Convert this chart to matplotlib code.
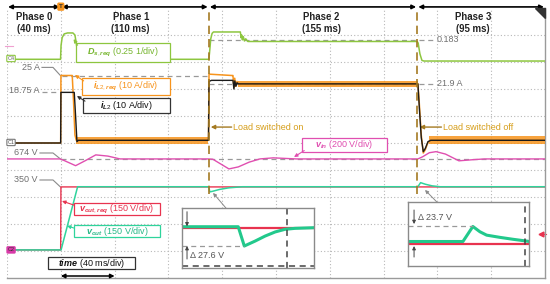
import matplotlib
matplotlib.use('Agg')
import matplotlib.pyplot as plt
from matplotlib.patches import Rectangle, Polygon
import numpy as np

FONT = 'Liberation Sans'
plt.rcParams['font.family'] = [FONT, 'DejaVu Sans']
plt.rcParams['mathtext.fontset'] = 'custom'
plt.rcParams['mathtext.rm'] = FONT
plt.rcParams['mathtext.it'] = FONT + ':italic:bold'
plt.rcParams['mathtext.bf'] = FONT + ':bold'
FS = 6.5

# ---- data, time in ms (40 ms/div) ----
phase_edges = [0, 40, 150, 305, 400]
phase_labels = ['Phase 0\n(40 ms)', 'Phase 1\n(110 ms)', 'Phase 2\n(155 ms)', 'Phase 3\n(95 ms)']
phase_label_t = [20, 92, 233.5, 346.5]

# D_s,req
t_d = [0, 39.8, 40.2, 41.0, 42.5, 45, 49, 50.5, 51.5, 52.5, 54, 56,
       150, 150.5, 151.5, 152.5, 153.5, 173.5, 174, 174.5, 175, 175.7, 176.5, 177.5, 179,
       305, 305.7, 307, 308.5, 310, 400]
d_sreq = [0, 0, 0.13, 0.2, 0.235, 0.244, 0.244, 0.225, 0.15, 0.06, 0.012, 0,
          0, 0.05, 0.19, 0.24, 0.253, 0.253, 0.2, 0.225, 0.18, 0.21, 0.17, 0.19, 0.165,
          0.165, 0.15, 0.05, -0.01, -0.016, -0.016]
d_level = 0.183

# inductor currents (A)
t_ireq = [0, 39.9, 40.1, 48.5, 49.5, 50.5, 51.5, 149.8, 150.2, 167.3, 168, 168.7, 169.3, 170, 171, 172,
          305.5, 306.5, 308, 309.5, 311, 313, 315, 400]
i_req = [0, 0, 25, 25, 15, 3, 1.0, 1.0, 25.5, 25.0, 25, 20.5, 24, 21, 22.8, 21.9,
         21.9, 15, 3, -3.7, -2.5, 0.3, 1.0, 1.0]
t_il2 = [0, 39.9, 40.1, 50, 51, 52, 53, 149.8, 150.2, 152, 168, 168.7, 169.4, 170.2, 171, 172,
         305.5, 306.7, 308, 309.5, 311, 313, 315, 400]
i_l2 = [0, 0, 18.75, 18.75, 10, 0.5, 1.0, 1.0, 22.8, 23.2, 23.2, 20, 23, 21, 22.3, 21.9,
        21.9, 12, 2, -3.2, -2, 0.5, 1.0, 1.0]
# ripple envelope of the switching current
ripple_t = [[51.5, 149.8], [171.5, 305.4], [313.5, 400]]
ripple_lo = [[-0.3, -0.3], [20.9, 20.9], [-0.4, -0.4]]
ripple_hi = [[2.2, 2.2], [23.1, 23.1], [2.5, 2.5]]
i_init = 25
i_init_l2 = 18.75
i_level = 21.9

# voltages (V)
t_vin = [0, 39.5, 43, 51, 58, 66, 75, 84, 150, 153, 160, 165, 172, 180, 188, 198, 215,
         305.5, 309, 314, 319, 326, 336, 346, 355, 400]
v_in = [674, 674, 660, 624, 660, 704, 695, 674, 674, 672, 630, 600, 615, 650, 674, 682, 674,
        674, 690, 720, 728, 710, 660, 668, 674, 674]
vin_level = 674
t_vout = [0, 40.2, 52.5, 150, 150.8, 153, 158, 165, 175, 305.5, 307.5, 311, 316, 322, 400]
v_out = [0, 0, 351, 351, 322.4, 326, 336, 345, 351, 351, 373.7, 365, 356, 351, 351]
t_vreq = [0, 39.9, 40.1, 400]
v_req = [0, 0, 350, 350]
vout_level = 350

# zoom insets (ms relative to load step, V)
ins1_t = [-21.3, 0, 2.3, 6.4, 10.2, 14, 17.7, 21.5, 28.7]
ins1_vout = [352, 352, 322.4, 330, 337.7, 344, 348, 349.5, 350.5]
ins2_t = [-22.7, 0, 4.1, 7.0, 9.8, 15.3, 20.7, 26.3, 27.3]
ins2_vout = [353.4, 353.4, 373.7, 366.6, 362, 359, 356.4, 354, 353.5]
delta_on = 27.6
delta_off = 23.7

# channel scale (per div) and ground offset (div)
D_SCALE, D_OFF = 0.25, 8.1
I_SCALE, I_OFF = 10.0, 5.0
VIN_SCALE, VOUT_SCALE, V_OFF = 200.0, 150.0, 1.04

C_D = '#8dc63f'
C_DTXT = '#76b52e'
C_IREQ = '#f7941d'
C_IL2 = '#1a1a1a'
C_VIN = '#e04fb0'
C_VREQ = '#e8334f'
C_VOUT = '#2fd49c'
C_EVT = '#a47a22'
C_EVTTXT = '#d69e1a'
C_GRAY = '#707070'
C_GRID = '#b8b8b8'

fig = plt.figure(figsize=(5.5, 2.84), dpi=100)
ax = fig.add_axes([7 / 550, 6 / 284, 538 / 550, 270 / 284])
ax.set_xlim(0, 400)
ax.set_ylim(0, 10)
ax.set_xticks([])
ax.set_yticks([])
for s in ['left', 'top']:
    ax.spines[s].set_visible(False)
for s in ['bottom', 'right']:
    ax.spines[s].set_color('#9a9a9a')
    ax.spines[s].set_linewidth(1.0)

dot = (0, (1, 2))
for k in range(1, 10):
    ax.axhline(k, color=C_GRID, lw=0.8, ls=dot, zorder=0)
for k in range(0, 10):
    ax.axvline(k * 40, color=C_GRID, lw=0.8, ls=dot, zorder=0)


def dv(v, scale, off):
    return np.asarray(v, dtype=float) / scale + off


# reference levels
dash = (0, (4, 3))
ax.hlines(dv(d_level, D_SCALE, D_OFF), 150, 318, color='#999999', lw=0.9, ls=dash, zorder=1)
ax.hlines(dv(i_init, I_SCALE, I_OFF), 41, 150, color='#999999', lw=0.9, ls=dash, zorder=1)
ax.hlines(dv(i_level, I_SCALE, I_OFF), 150, 318, color='#999999', lw=0.9, ls=dash, zorder=1)
ax.hlines(dv(i_init_l2, I_SCALE, I_OFF), 26, 40, color='#999999', lw=0.9, ls=dash, zorder=1)
ax.hlines(dv(vin_level, VIN_SCALE, V_OFF), 40, 400, color='#999999', lw=0.9, ls=dash, zorder=1)

# traces
ax.plot(t_d, dv(d_sreq, D_SCALE, D_OFF), color=C_D, lw=1.1, zorder=3)
for tt, lo, hi in zip(ripple_t, ripple_lo, ripple_hi):
    ax.fill_between(tt, dv(lo, I_SCALE, I_OFF), dv(hi, I_SCALE, I_OFF), color=C_IREQ, alpha=0.85,
                    lw=0, zorder=3)
ax.plot(t_ireq, dv(i_req, I_SCALE, I_OFF), color=C_IREQ, lw=1.1, zorder=3)
ax.plot(t_il2, dv(i_l2, I_SCALE, I_OFF), color=C_IL2, lw=1.0, zorder=4)
ax.plot(t_vin, dv(v_in, VIN_SCALE, V_OFF), color=C_VIN, lw=1.0, zorder=3)
ax.plot(t_vreq, dv(v_req, VOUT_SCALE, V_OFF), color=C_VREQ, lw=1.0, zorder=3)
ax.plot(t_vout, dv(v_out, VOUT_SCALE, V_OFF), color=C_VOUT, lw=1.1, zorder=4)

# phase boundaries
for te in phase_edges[2:4]:
    ax.vlines(te, 3.1, 10, color=C_EVT, lw=1.2, ls=(0, (5, 3)), zorder=5)

# phase arrows and labels
for i in range(4):
    ax.annotate('', xy=(phase_edges[i] + 0.8, 10.04), xytext=(phase_edges[i + 1] - 0.8, 10.04),
                arrowprops=dict(arrowstyle='<|-|>', color='black', lw=1.2, mutation_scale=6,
                                shrinkA=0, shrinkB=0), annotation_clip=False)
    ax.text(phase_label_t[i], 9.46, phase_labels[i], ha='center', va='center', fontsize=6.9,
            fontweight='bold', color='#222222', linespacing=1.25)

# trigger marker and corner marker
ax.text(40, 10.05, 'T', ha='center', va='center', fontsize=4.5, fontweight='bold', color='#333333',
        bbox=dict(boxstyle='round,pad=0.15', fc=C_IREQ, ec=C_IREQ), clip_on=False, zorder=9)
ax.add_patch(Polygon([[392.5, 10], [400, 10], [400, 9.62]], closed=True, color='#333333',
                     clip_on=False, zorder=9))

# channel tags
ax.text(3, 8.13, 'C4', ha='center', va='center', fontsize=4, color='#666666',
        bbox=dict(boxstyle='round,pad=0.12', fc='white', ec=C_D, lw=0.8), zorder=8)
ax.text(3, 5.02, 'C1', ha='center', va='center', fontsize=4, color='#555555',
        bbox=dict(boxstyle='round,pad=0.12', fc='white', ec='#777777', lw=0.8), zorder=8)
ax.text(3, 1.04, 'C2', ha='center', va='center', fontsize=4, color='#333333',
        bbox=dict(boxstyle='round,pad=0.12', fc='#d83aa8', ec='#d83aa8', lw=0.8), zorder=8)
ax.plot([-1.5, 4.5], [8.59, 8.59], color='#f0a0d0', lw=0.8, clip_on=False)
ax.plot(397, 1.63, marker='<', color=C_VREQ, ms=3.5, clip_on=False)
ax.plot([397, 400.5], [1.63, 1.63], color=C_VREQ, lw=0.8, clip_on=False)

# gray level labels with leaders
lead = dict(color='#8a8a8a', lw=0.8, zorder=2)
ax.text(24.5, 7.8, '25 A', ha='right', va='center', fontsize=FS, color=C_GRAY)
ax.plot([26, 34.2, 39.7], [7.8, 7.8, dv(i_init, I_SCALE, I_OFF)], **lead)
ax.text(24.5, 6.93, '18.75 A', ha='right', va='center', fontsize=FS, color=C_GRAY)
ax.text(23, 4.63, '674 V', ha='right', va='center', fontsize=FS, color=C_GRAY)
ax.plot([24.5, 34.2, 39.7], [4.63, 4.63, dv(vin_level, VIN_SCALE, V_OFF)], **lead)
ax.text(23, 3.63, '350 V', ha='right', va='center', fontsize=FS, color=C_GRAY)
ax.plot([24.5, 34.2, 39.7], [3.63, 3.63, dv(vout_level, VOUT_SCALE, V_OFF)], **lead)
ax.text(319.7, dv(d_level, D_SCALE, D_OFF), '0.183', ha='left', va='center', fontsize=FS, color=C_GRAY)
ax.text(319.7, dv(i_level, I_SCALE, I_OFF), '21.9 A', ha='left', va='center', fontsize=FS, color=C_GRAY)

# load events
ax.annotate('', xy=(151.5, 5.59), xytext=(167, 5.59),
            arrowprops=dict(arrowstyle='-|>', color=C_EVT, lw=1.0, mutation_scale=6, shrinkA=0, shrinkB=0))
ax.text(168, 5.59, 'Load switched on', ha='left', va='center', fontsize=FS, color=C_EVTTXT, zorder=6)
ax.annotate('', xy=(306.8, 5.59), xytext=(323, 5.59),
            arrowprops=dict(arrowstyle='-|>', color=C_EVT, lw=1.0, mutation_scale=6, shrinkA=0, shrinkB=0))
ax.text(324.2, 5.59, 'Load switched off', ha='left', va='center', fontsize=FS, color=C_EVTTXT, zorder=6)


def label_box(t0, t1, d0, d1, text, color, tcolor=None, tip=None, base=None):
    ax.add_patch(Rectangle((t0, d0), t1 - t0, d1 - d0, facecolor='white', edgecolor=color,
                           lw=0.9, zorder=6))
    ax.text((t0 + t1) / 2, (d0 + d1) / 2, text, color=tcolor or color, ha='center', va='center',
            fontsize=FS, zorder=7)
    if tip is not None:
        ax.annotate('', xy=tip, xytext=base,
                    arrowprops=dict(arrowstyle='-|>', color=color, lw=0.8, mutation_scale=5,
                                    shrinkA=0, shrinkB=0), zorder=7)


label_box(51.3, 121.2, 8.0, 8.7, r'$D_{s,req}$ (0.25 1/div)', C_D, C_DTXT, (49.5, 8.85), (52.5, 8.62))
label_box(55.8, 121.2, 6.78, 7.41, r'$i_{L2,req}$ (10 A/div)', C_IREQ, None, (50.5, 7.52), (57, 7.3))
label_box(56.5, 121.2, 6.11, 6.67, r'$i_{L2}$ (10 A/div)', '#333333', '#111111', (52, 6.74), (58, 6.55))
label_box(219.3, 282.5, 4.67, 5.19, r'$v_{in}$ (200 V/div)', C_VIN, None, (213.4, 4.48), (221, 4.72))
label_box(49.8, 113.8, 2.33, 2.78, r'$v_{out,req}$ (150 V/div)', C_VREQ, None, (40.9, 2.85), (49.8, 2.7))
label_box(49.8, 113.8, 1.52, 1.96, r'$v_{out}$ (150 V/div)', C_VOUT, '#27b887', (44.6, 1.93), (49.8, 1.85))
label_box(30.5, 95.2, 0.33, 0.78, r'$time$ (40 ms/div)', '#333333', '#111111')
ax.annotate('', xy=(40, 0.074), xytext=(80, 0.074),
            arrowprops=dict(arrowstyle='<|-|>', color='black', lw=1.1, mutation_scale=6,
                            shrinkA=0, shrinkB=0))

# connectors to insets
con = dict(arrowstyle='-|>', color='#8a8a8a', lw=0.7, mutation_scale=5, shrinkA=0, shrinkB=0)
ax.annotate('', xy=(153.2, 3.15), xytext=(162.8, 2.59), arrowprops=con)
ax.annotate('', xy=(310.8, 3.26), xytext=(319.7, 2.81), arrowprops=con)


def inset(rect, xlim, ylim):
    a = fig.add_axes(rect)
    a.set_xlim(*xlim)
    a.set_ylim(*ylim)
    a.set_xticks([])
    a.set_yticks([])
    for s in a.spines.values():
        s.set_color('#8a8a8a')
        s.set_linewidth(1.0)
    return a


ldash = (0, (4, 3))
# inset 1: load switched on
a1 = inset([182 / 550, 16 / 284, 132 / 550, 60 / 284], (-21.3, 28.7), (288.7, 380.7))
a1.plot([ins1_t[0], ins1_t[-1]], [vout_level, vout_level], color=C_VREQ, lw=1.6)
a1.plot(ins1_t, ins1_vout, color='#22c98c', lw=2.2)
a1.axvline(18.4, color='#444444', lw=1.1, ls=ldash)
a1.axhline(291.7, color='#444444', lw=1.1, ls=ldash)
a1.hlines(vout_level - delta_on, -21.3, 2.3, color='#999999', lw=0.9, ls=ldash)
arr = dict(arrowstyle='-|>', color='#444444', lw=0.7, mutation_scale=5, shrinkA=0, shrinkB=0)
a1.annotate('', xy=(-19.4, 352.5), xytext=(-19.4, 375), arrowprops=arr)
a1.annotate('', xy=(-19.4, vout_level - delta_on), xytext=(-19.4, 302.5), arrowprops=arr)
a1.text(-18.2, 308.6, '\u0394 %.1f V' % delta_on, ha='left', va='center', fontsize=FS, color='#555555')

# inset 2: load switched off
a2 = inset([408 / 550, 18 / 284, 121 / 550, 64 / 284], (-22.7, 27.3), (320.3, 406.8))
a2.plot([ins2_t[0], ins2_t[-1]], [vout_level, vout_level], color=C_VREQ, lw=1.6)
a2.plot(ins2_t, ins2_vout, color='#22c98c', lw=2.2)
a2.axvline(25.6, color='#444444', lw=1.1, ls=ldash)
a2.hlines(vout_level + delta_off, -22.7, 4.1, color='#999999', lw=0.9, ls=ldash)
a2.annotate('', xy=(-20.2, 377), xytext=(-20.2, 396), arrowprops=arr)
a2.annotate('', xy=(-20.2, 347.3), xytext=(-20.2, 332.4), arrowprops=arr)
a2.text(-18.6, 386.5, '\u0394 %.1f V' % delta_off, ha='left', va='center', fontsize=FS, color='#555555')

fig.savefig('out.png', dpi=100)
